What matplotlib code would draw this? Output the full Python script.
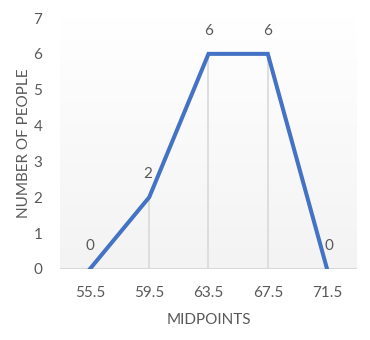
import numpy as np
import matplotlib.pyplot as plt

# chart data
midpoints = ["55.5", "59.5", "63.5", "67.5", "71.5"]
people = [0, 2, 6, 6, 0]

plt.rcParams["font.family"] = ["Lato", "DejaVu Sans"]
text_color = "#595959"

fig = plt.figure(figsize=(3.7, 3.4), dpi=100)
ax = fig.add_axes([0.163, 0.209, 0.801, 0.738])

x = np.arange(len(midpoints))

# faint vertical gradient in the plot area
grad = np.linspace(0, 1, 256).reshape(-1, 1)
ax.imshow(grad, extent=(-0.5, 4.5, 0, 7), aspect="auto", origin="lower",
          cmap=plt.matplotlib.colors.LinearSegmentedColormap.from_list(
              "bg", ["#F3F3F3", "#FFFFFF"]), zorder=0)

# drop lines
ax.vlines(x, 0, people, color="#D9D9D9", lw=1.2, zorder=1)
ax.axhline(0, color="#D9D9D9", lw=1.5, zorder=1)

ax.plot(x, people, color="#4472C4", lw=2.9, solid_joinstyle="miter", zorder=3)

label_dx = [0, -0.03, 0, 0, 0.03]
for xi, v, dx in zip(x, people, label_dx):
    ax.text(xi + dx, v + 0.45, str(v), ha="center", va="bottom",
            fontsize=11, color=text_color)

ax.set_xlim(-0.5, 4.5)
ax.set_ylim(0, 7)
ax.set_xticks(x)
ax.set_xticklabels(midpoints)
ax.set_yticks(range(0, 8))
ax.tick_params(length=0, labelsize=11, labelcolor=text_color)
ax.tick_params(axis="x", pad=12)
ax.tick_params(axis="y", pad=13)
for s in ax.spines.values():
    s.set_visible(False)

ax.set_xlabel("MIDPOINTS", fontsize=11, color=text_color, labelpad=10)
ax.set_ylabel("NUMBER OF PEOPLE", fontsize=11, color=text_color, labelpad=2)

fig.savefig("out.png", dpi=100)
